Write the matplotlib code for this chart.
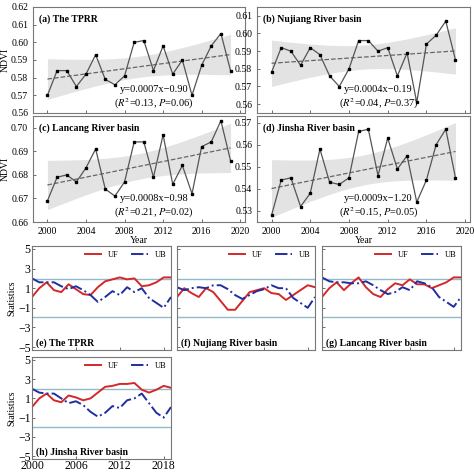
import numpy as np
import matplotlib
matplotlib.use("Agg")
import matplotlib.pyplot as plt

plt.rcParams['font.family'] = ['Liberation Serif', 'DejaVu Serif']
plt.rcParams['mathtext.fontset'] = 'stix'

years = list(range(2000, 2020))
ndvi_a = [0.570,0.584,0.584,0.575,0.582,0.593,0.579,0.576,0.581,0.600,0.601,0.584,0.598,0.582,0.590,0.570,0.587,0.598,0.605,0.584]
ndvi_b = [0.578,0.592,0.590,0.582,0.592,0.588,0.576,0.570,0.580,0.596,0.596,0.590,0.592,0.576,0.589,0.561,0.594,0.599,0.607,0.585]
ndvi_c = [0.669,0.679,0.680,0.677,0.683,0.691,0.674,0.671,0.677,0.694,0.694,0.679,0.697,0.676,0.684,0.672,0.692,0.694,0.703,0.686]
ndvi_d = [0.528,0.544,0.545,0.532,0.538,0.558,0.543,0.542,0.545,0.566,0.567,0.546,0.563,0.549,0.555,0.534,0.544,0.560,0.567,0.545]
titles_top = ["(a) The TPRR", "(b) Nujiang River basin", "(c) Lancang River basin", "(d) Jinsha River basin"]
eqs = ["y=0.0007x\u22120.90", "y=0.0004x\u22120.19", "y=0.0008x\u22120.98", "y=0.0009x\u22121.20"]
stats = [("0.13", "0.06"), ("0.04", "0.37"), ("0.21", "0.02"), ("0.15", "0.05")]
ylims = [(0.56, 0.62), (0.555, 0.615), (0.66, 0.705), (0.525, 0.573)]
yticks = [np.arange(0.56, 0.621, 0.01), np.arange(0.56, 0.611, 0.01), np.arange(0.66, 0.701, 0.01), np.arange(0.53, 0.571, 0.01)]

uf_e = [0.1,1.0,1.6,0.8,0.6,1.4,0.9,0.4,0.3,1.1,1.7,1.9,2.1,1.9,2.0,1.2,1.3,1.6,2.1,2.1]
ub_e = [2.0,1.6,1.6,1.6,1.2,0.9,1.2,0.8,0.3,-0.4,0.1,0.7,0.3,1.1,0.6,1.0,0.0,-0.5,-1.0,0.1]
uf_f = [0.1,1.0,0.5,0.1,1.0,0.6,-0.3,-1.2,-1.2,-0.3,0.6,0.8,1.0,0.5,0.4,-0.2,0.3,0.8,1.3,1.1]
ub_f = [1.1,0.8,1.0,1.1,1.0,1.3,1.3,0.9,0.3,-0.1,0.3,0.7,0.9,1.3,1.0,1.0,0.0,-0.5,-1.0,0.1]
uf_g = [0.1,1.0,1.6,0.8,1.5,2.1,1.1,0.4,0.1,0.9,1.5,1.3,1.9,1.4,1.4,1.0,1.3,1.6,2.1,2.1]
ub_g = [2.1,1.7,1.6,1.6,1.5,1.5,1.7,1.3,0.8,0.4,0.6,1.1,0.8,1.7,1.5,1.1,0.1,-0.4,-0.9,0.1]
uf_h = [0.1,1.0,1.5,0.8,0.6,1.3,1.1,0.8,1.0,1.6,2.2,2.3,2.5,2.5,2.6,1.9,1.6,1.9,2.3,2.1]
ub_h = [2.0,1.6,1.5,1.5,1.0,0.5,0.7,0.3,-0.4,-0.9,-0.5,0.2,0.0,0.8,1.0,1.5,0.5,-0.5,-1.0,0.1]
titles_bot = ["(e) The TPRR", "(f) Nujiang River basin", "(g) Lancang River basin", "(h) Jinsha River basin"]

W = H = 474
fig = plt.figure(figsize=(4.74, 4.74), dpi=100)

def ax_px(x0, y0, x1, y1):
    return fig.add_axes([x0 / W, 1 - y1 / H, (x1 - x0) / W, (y1 - y0) / H])

def style(ax):
    for s in ax.spines.values():
        s.set_color('#777777'); s.set_linewidth(0.8)
    ax.tick_params(labelsize=7, length=2, width=0.6, color='#555555', direction='in')

top_boxes = [(33, 7, 245, 113), (257, 7, 470, 113), (33, 116, 245, 222), (257, 116, 470, 222)]
for i, (data, box) in enumerate(zip([ndvi_a, ndvi_b, ndvi_c, ndvi_d], top_boxes)):
    ax = ax_px(*box)
    style(ax)
    x = np.array(years, float); y = np.array(data)
    k, b = np.polyfit(x, y, 1)
    fit = k * x + b
    res = y - fit
    s = np.sqrt(np.sum(res**2) / (len(x) - 2))
    se = s * np.sqrt(1/len(x) + (x - x.mean())**2 / np.sum((x - x.mean())**2))
    ax.fill_between(x, fit - 2.8 * se, fit + 2.8 * se, color='#e3e3e3', lw=0)
    ax.plot(x, fit, ls='--', color='#666666', lw=0.9)
    ax.plot(x, y, '-', color='#555555', lw=0.9, marker='s', ms=1.8, mfc='black', mec='black')
    ax.set_xlim(1998.5, 2020.5); ax.set_ylim(*ylims[i])
    ax.set_yticks(yticks[i])
    ax.set_yticklabels([f"{v:.2f}" for v in yticks[i]])
    ax.set_xticks([2000, 2004, 2008, 2012, 2016, 2020])
    if i < 2:
        ax.set_xticklabels([])
    else:
        ax.set_xlabel("Year", fontsize=7, labelpad=0)
    if i % 2 == 0:
        ax.set_ylabel("NDVI", fontsize=7, labelpad=1)
    ax.text(0.03, 0.93, titles_top[i], transform=ax.transAxes, fontsize=7, fontweight='bold', va='top')
    ax.text(0.57, 0.2, eqs[i], transform=ax.transAxes, fontsize=7.5, ha='center')
    r2, p = stats[i]
    ax.text(0.57, 0.06, f"($R^2$={r2}, $P$={p})", transform=ax.transAxes, fontsize=7.5, ha='center')

bot_boxes = [(32, 246, 171, 350), (177, 246, 315, 350), (322, 246, 461, 350), (32, 357, 171, 459)]
for i, (uf, ub, box) in enumerate(zip([uf_e, uf_f, uf_g, uf_h], [ub_e, ub_f, ub_g, ub_h], bot_boxes)):
    ax = ax_px(*box)
    style(ax)
    ax.axhline(1.96, color='#8fbcc8', lw=1)
    ax.axhline(-1.96, color='#8fbcc8', lw=1)
    l1, = ax.plot(years, uf, color='#d62728', lw=1.4, label='UF')
    l2, = ax.plot(years, ub, color='#1f2fa0', lw=1.4, ls='-.', label='UB')
    ax.set_xlim(2000, 2019); ax.set_ylim(-5.3, 5.3)
    ax.set_yticks([-5, -3, -1, 1, 3, 5])
    ax.set_xticks([2000, 2006, 2012, 2018])
    ax.tick_params(labelsize=8.5, pad=1)
    if i in (0, 3):
        ax.set_ylabel("Statistics", fontsize=7, labelpad=1)
    else:
        ax.set_yticklabels([])
    if i != 3:
        ax.set_xticklabels([])
    ax.legend(handles=[l1, l2], loc='upper right', ncol=2, fontsize=6, frameon=False,
              handlelength=2, columnspacing=1.5, borderaxespad=0.2)
    ax.text(0.03, 0.04, titles_bot[i], transform=ax.transAxes, fontsize=7, fontweight='bold')

fig.savefig("out.png", dpi=100)
